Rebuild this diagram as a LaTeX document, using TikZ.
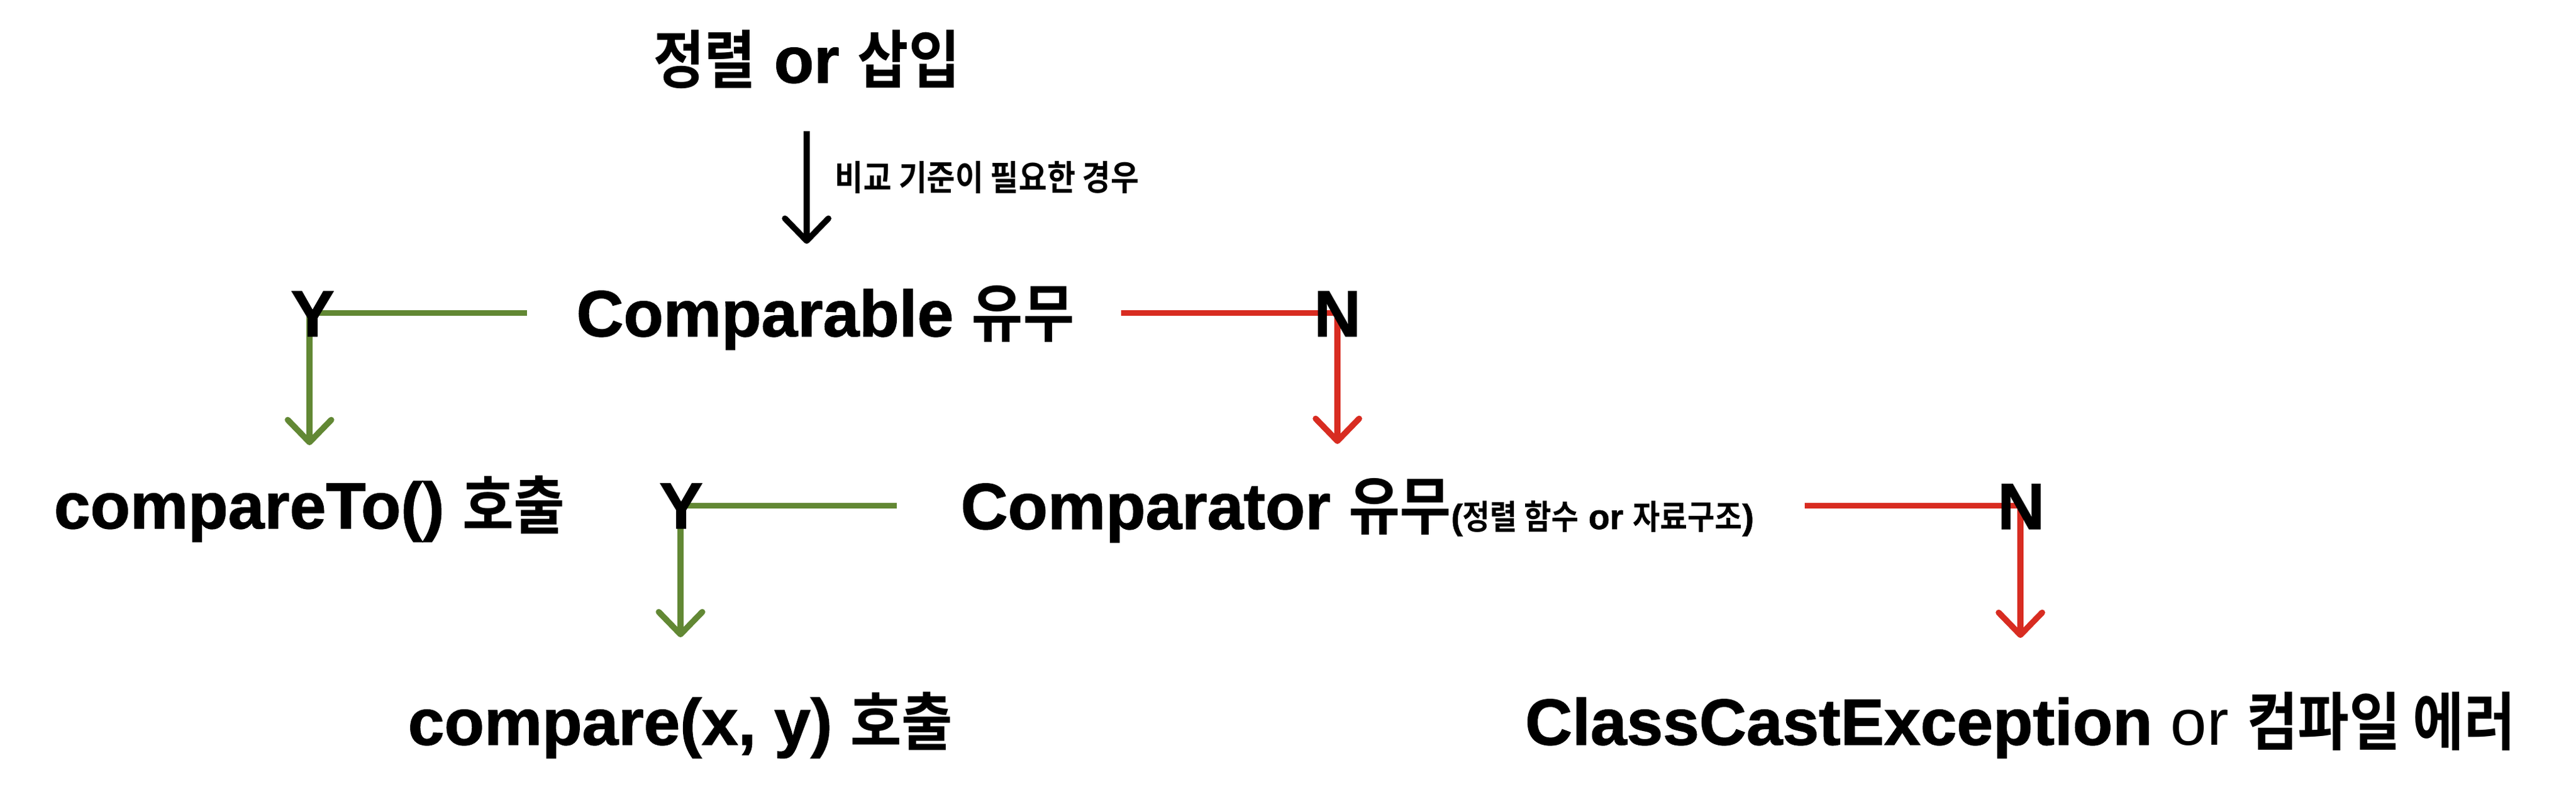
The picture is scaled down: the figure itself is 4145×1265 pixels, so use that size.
\documentclass[tikz,border=0pt]{standalone}
\usepackage{fontspec}
\setmainfont{Liberation Sans}[BoldFeatures={FakeBold=1.2}]
\newfontfamily\korfont{Noto Sans CJK KR}[Scale=0.97,FakeStretch=0.88,BoldFont={* Bold}]
\newcommand{\KO}[1]{{\korfont #1}}
\usetikzlibrary{arrows.meta,backgrounds}
\definecolor{ygreen}{HTML}{628834}
\definecolor{nred}{HTML}{D82C21}
\tikzset{
  big/.style={inner sep=0pt, text height=18.75pt, text depth=0pt, anchor=base,
    font=\fontsize{26.25pt}{30pt}\selectfont\bfseries},
  small/.style={inner sep=0pt, anchor=base west,
    font=\fontsize{14.5pt}{17pt}\selectfont\bfseries},
  tip/.style={-{Straight Barb[length=9pt,width=17.5pt,round]}},
  blkline/.style={draw=black, line width=2.4pt, tip},
  gline/.style={draw=ygreen, line width=2.4pt, tip},
  rline/.style={draw=nred, line width=2.4pt, tip},
}
\begin{document}
\begin{tikzpicture}[x=0.25pt,y=-0.25pt]
\useasboundingbox (0,0) rectangle (4145,1265);

% texts
\node[big] (title) at (1298,133) {\KO{정렬} or \KO{삽입}};
\node[small] (cond) at (1343,306) {\KO{비교 기준이 필요한 경우}};
\node[big] (cmp1) at (1328,541) {Comparable \KO{유무}};
\node[big] (ct) at (498,850) {compareTo() \KO{호출}};
\node[big] (cmp2) at (2184,851) {Comparator \KO{유무}{\fontsize{14pt}{17pt}\selectfont(\KO{정렬 함수} or \KO{자료구조})}};
\node[big] (cx) at (1095,1198) {compare(x, y) \KO{호출}};
\node[big] (cce) at (3251,1198) {ClassCastException {\mdseries or} \KO{컴파일 에러}};

% Y / N markers
\node[big] (y1) at (503,541) {Y};
\node[big] (n1) at (2152,541) {N};
\node[big] (y2) at (1096,850) {Y};
\node[big] (n2) at (3252,851) {N};

\begin{pgfonlayer}{background}
\fill[white] (0,0) rectangle (4145,1265);
% connectors
\draw[blkline, shorten <=19.25pt, shorten >=18.25pt] (title.south) -- (title.south |- cmp1.north);
\draw[gline, shorten <=19.75pt, shorten >=14.5pt] (cmp1.west) -| (ct.north);
\draw[rline, shorten <=18.75pt, shorten >=15.25pt] (cmp1.east) -| (n1.center |- cmp2.north);
\draw[gline, shorten <=25.5pt, shorten >=24.25pt] (cmp2.west) -| (cx.north);
\draw[rline, shorten <=20.25pt, shorten >=24pt] (cmp2.east) -| (cce.north);
\end{pgfonlayer}
\end{tikzpicture}
\end{document}
